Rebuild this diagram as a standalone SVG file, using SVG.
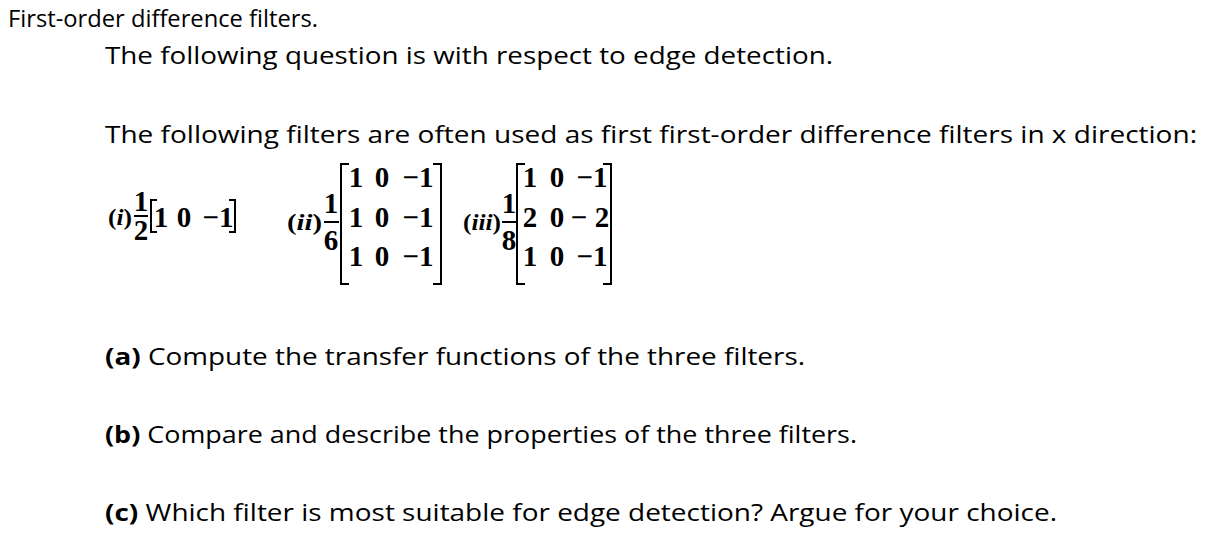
<svg xmlns="http://www.w3.org/2000/svg" width="1230" height="554" viewBox="0 0 1230 554">
<style>
.t{font-family:"Open Sans","Liberation Sans",sans-serif;font-size:23px;fill:#000}
.m{font-family:"Liberation Serif",serif;font-weight:bold;font-size:29px;fill:#000;text-anchor:middle}
.l{font-family:"Liberation Serif",serif;font-weight:bold;font-size:24px;fill:#000}
.i{font-style:italic}
.b{fill:none;stroke:#000;stroke-width:2}
</style>
<rect width="1230" height="554" fill="#fff"/>
<text class="t" x="8" y="27" textLength="310" lengthAdjust="spacingAndGlyphs">First-order difference filters.</text>
<text class="t" x="105" y="64" textLength="728" lengthAdjust="spacingAndGlyphs">The following question is with respect to edge detection.</text>
<text class="t" x="105" y="143" textLength="1092" lengthAdjust="spacingAndGlyphs">The following filters are often used as first first-order difference filters in x direction:</text>
<g id="f1">
<text class="l" x="108" y="225" textLength="24" lengthAdjust="spacingAndGlyphs">(<tspan class="i">i</tspan>)</text>
<text class="m" x="141" y="211">1</text>
<line class="b" x1="134" y1="216" x2="148" y2="216"/>
<text class="m" x="141" y="240">2</text>
<path class="b" d="M157 200h-6v32h6"/>
<text class="m" x="161" y="227" font-size="25">1</text>
<text class="m" x="184" y="227" font-size="19">0</text>
<text class="m" x="218" y="227" font-size="25">−1</text>
<path class="b" d="M229 200h6v32h-6"/>
</g>
<g id="f2">
<text class="l" x="287" y="230" textLength="35" lengthAdjust="spacingAndGlyphs">(<tspan class="i">ii</tspan>)</text>
<text class="m" x="331" y="213">1</text>
<line class="b" x1="324" y1="222" x2="339" y2="222"/>
<text class="m" x="331" y="250">6</text>
<path class="b" d="M349 164h-8v120h8"/>
<text class="m" x="356" y="187">1</text><text class="m" x="382" y="187">0</text><text class="m" x="418" y="187">−1</text>
<text class="m" x="356" y="227">1</text><text class="m" x="382" y="227">0</text><text class="m" x="418" y="227">−1</text>
<text class="m" x="356" y="266">1</text><text class="m" x="382" y="266">0</text><text class="m" x="418" y="266">−1</text>
<path class="b" d="M433 164h8v120h-8"/>
</g>
<g id="f3">
<text class="l" x="463" y="230" textLength="38" lengthAdjust="spacingAndGlyphs">(<tspan class="i">iii</tspan>)</text>
<text class="m" x="509" y="213">1</text>
<line class="b" x1="502" y1="222" x2="517" y2="222"/>
<text class="m" x="509" y="250">8</text>
<path class="b" d="M525 164h-8v120h8"/>
<text class="m" x="530" y="187">1</text><text class="m" x="557" y="187">0</text><text class="m" x="592" y="187">−1</text>
<text class="m" x="530" y="227">2</text><text class="m" x="557" y="227">0</text><text class="m" x="590" y="227">− 2</text>
<text class="m" x="530" y="266">1</text><text class="m" x="557" y="266">0</text><text class="m" x="592" y="266">−1</text>
<path class="b" d="M603 164h8v120h-8"/>
</g>
<text class="t" x="105" y="365" textLength="700" lengthAdjust="spacingAndGlyphs"><tspan font-weight="bold">(a)</tspan> Compute the transfer functions of the three filters.</text>
<text class="t" x="105" y="443" textLength="752" lengthAdjust="spacingAndGlyphs"><tspan font-weight="bold">(b)</tspan> Compare and describe the properties of the three filters.</text>
<text class="t" x="105" y="521" textLength="952" lengthAdjust="spacingAndGlyphs"><tspan font-weight="bold">(c)</tspan> Which filter is most suitable for edge detection? Argue for your choice.</text>
</svg>
